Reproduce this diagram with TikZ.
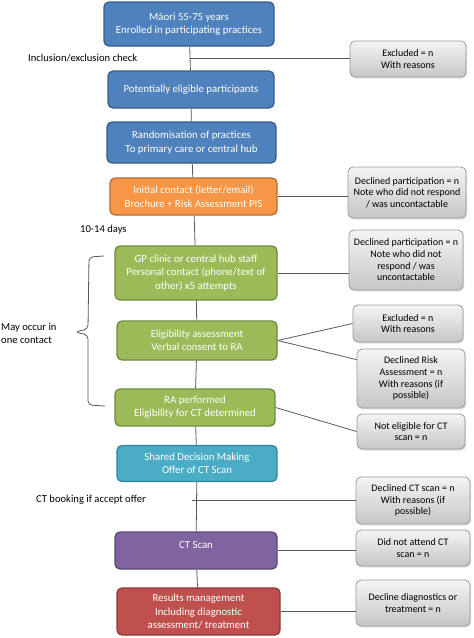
\documentclass[tikz,border=0pt]{standalone}
\usepackage{fontspec}
\setmainfont{Carlito}
\usetikzlibrary{shadows,backgrounds,calc}
\definecolor{bluef}{HTML}{4F81BD}\definecolor{blued}{HTML}{385D8A}
\definecolor{orangef}{HTML}{F79646}\definecolor{oranged}{HTML}{B66D31}
\definecolor{greenf}{HTML}{9BBB59}\definecolor{greend}{HTML}{71893F}
\definecolor{tealf}{HTML}{4BACC6}\definecolor{teald}{HTML}{31859C}
\definecolor{purplef}{HTML}{8064A2}\definecolor{purpled}{HTML}{5C4776}
\definecolor{redf}{HTML}{C0504D}\definecolor{redd}{HTML}{8C3836}
\definecolor{greyline}{HTML}{9A9A9A}
\definecolor{greytop}{HTML}{F4F4F4}
\definecolor{greybot}{HTML}{C6C6C6}
\definecolor{linec}{HTML}{595959}
\begin{document}
\begin{tikzpicture}[x=1pt,y=-1pt,
  mainbox/.style={line width=1.3pt, rounded corners=5pt, text=white, align=center,
    font=\fontsize{10.8}{13.3}\selectfont, inner sep=1pt},
  bluebox/.style={mainbox, fill=bluef, draw=blued},
  orangebox/.style={mainbox, fill=orangef, draw=oranged},
  greenbox/.style={mainbox, fill=greenf, draw=greend},
  tealbox/.style={mainbox, fill=tealf, draw=teald},
  purplebox/.style={mainbox, fill=purplef, draw=purpled},
  redbox/.style={mainbox, fill=redf, draw=redd},
  greybox/.style={draw=greyline, line width=0.8pt, rounded corners=5pt,
    top color=greytop, bottom color=greybot, align=center, inner sep=1pt,
    drop shadow={opacity=0.25, shadow xshift=1.2pt, shadow yshift=-1.5pt},
    font=\fontsize{10}{11.7}\selectfont},
  lab/.style={font=\fontsize{10.6}{13}\selectfont, inner sep=0pt, anchor=west},
  conn/.style={draw=linec, line width=0.8pt}
]
\useasboundingbox (0,0) rectangle (474,638);

% main boxes
\node[bluebox, minimum width=170pt, minimum height=44pt] (m1) at (189,24) {Māori 55-75 years\\Enrolled in participating practices};
\node[bluebox, minimum width=166pt, minimum height=37pt] (m2) at (191,89.5) {Potentially eligible participants};
\node[bluebox, minimum width=169pt, minimum height=41pt] (m3) at (191.5,142.5) {Randomisation of practices\\To primary care or central hub};
\node[orangebox, minimum width=167pt, minimum height=37pt] (m4) at (193.5,196.5) {Initial contact (letter/email)\\Brochure + Risk Assessment PIS};
\node[greenbox, minimum width=162pt, minimum height=54pt] (m5) at (196,273) {GP clinic or central hub staff\\Personal contact (phone/text of\\other) x5 attempts};
\node[greenbox, minimum width=160pt, minimum height=39pt] (m6) at (197,340.5) {Eligibility assessment\\Verbal consent to RA};
\node[greenbox, minimum width=160pt, minimum height=37pt] (m7) at (195,407.5) {RA performed\\Eligibility for CT determined};
\node[tealbox, minimum width=160pt, minimum height=36pt] (m8) at (197,463.5) {Shared Decision Making\\Offer of CT Scan};
\node[purplebox, minimum width=162pt, minimum height=37pt, text depth=12pt] (m9) at (196,550.5) {CT Scan};
\node[redbox, minimum width=163pt, minimum height=47pt] (m10) at (198.5,611.5) {Results management\\Including diagnostic\\assessment/ treatment};

% grey boxes
\node[greybox, minimum width=116pt, minimum height=36pt] (gA) at (408,59) {Excluded = n\\With reasons};
\node[greybox, minimum width=118pt, minimum height=51pt] (gB) at (407,192.5) {Declined participation = n\\Note who did not respond\\/ was uncontactable};
\node[greybox, minimum width=114pt, minimum height=60pt] (gC) at (406,260) {Declined participation = n\\Note who did not\\respond / was\\uncontactable};
\node[greybox, minimum width=110pt, minimum height=37pt] (gD) at (408,323.5) {Excluded = n\\With reasons};
\node[greybox, minimum width=108pt, minimum height=59pt] (gE) at (411,378.5) {Declined Risk\\Assessment = n\\With reasons (if\\possible)};
\node[greybox, minimum width=108pt, minimum height=35pt] (gF) at (411,431.5) {Not eligible for CT\\scan = n};
\node[greybox, minimum width=114pt, minimum height=47pt] (gG) at (413,500.5) {Declined CT scan = n\\With reasons (if\\possible)};
\node[greybox, minimum width=114pt, minimum height=36pt] (gH) at (413,548) {Did not attend CT\\scan = n};
\node[greybox, minimum width=114pt, minimum height=46pt] (gI) at (413,603) {Decline diagnostics or\\treatment = n};

% labels
\node[lab] (l1) at (28,58) {Inclusion/exclusion check};
\node[lab] (l2) at (80,230) {10-14 days};
\node[lab, align=left] (l3) at (1,333.5) {May occur in\\one contact};
\node[lab] (l4) at (36,500) {CT booking if accept offer};

\coordinate (jA) at (190,58);
\coordinate (jG) at (192,500);
\coordinate (bt) at (104,256);
\coordinate (bb) at (105,406);
\coordinate (bm) at (75,332);

\begin{scope}[on background layer]
\fill[white] (0,0) rectangle (474,638);
\draw[conn] (m1) -- (m2);
\draw[conn] (m2) -- (m3);
\draw[conn] (m3) -- (m4);
\draw[conn] (m4) -- (m5);
\draw[conn] (m5) -- (m6);
\draw[conn] (m6) -- (m7);
\draw[conn] (m7) -- (m8);
\draw[conn] (m8) -- (m9);
\draw[conn] (m9) -- (m10);
\end{scope}

\draw[conn] (jA) -- (jA -| gA.west);
\draw[conn] (m4.east) -- (m4.east -| gB.west);
\draw[conn] (m5.east) -- (m5.east -| gC.west);
\draw[conn] (m6.east) -- (gD.west);
\draw[conn] (m6.east) -- ($(gE.north west)+(0,11)$);
\draw[conn] (m7.east) -- (gF.west);
\draw[conn] (jG) -- (jG -| gG.west);
\draw[conn] (m9.east) -- (m9.east -| gH.west);
\draw[conn] (m10.east) -- (m10.east -| gI.west);

% brace
\draw[conn, rounded corners=4pt] (bt) -- (89,257) -- (88,329) -- (bm) -- (88,335) -- (88,405) -- (bb);
\end{tikzpicture}
\end{document}
